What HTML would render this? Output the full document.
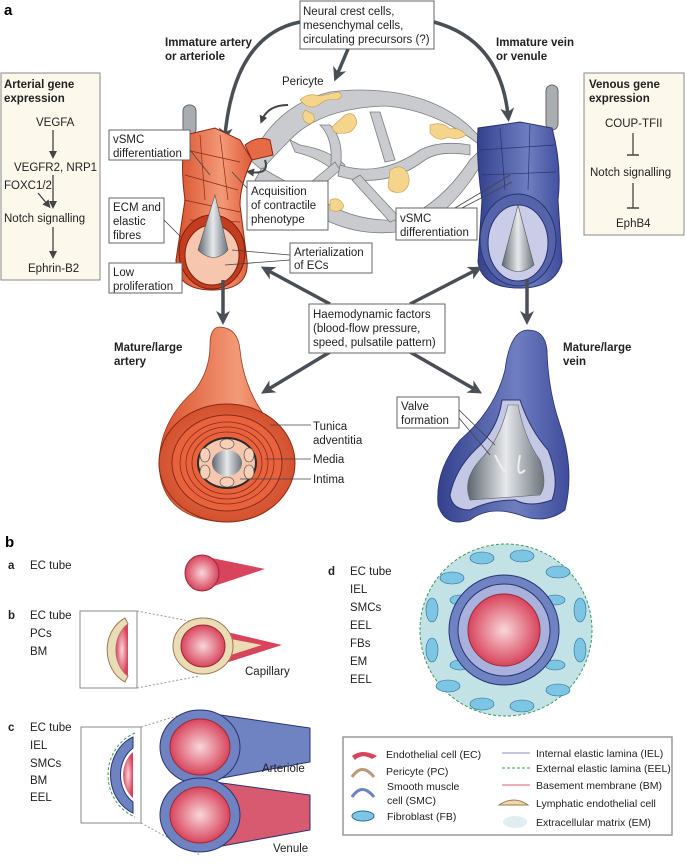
<!DOCTYPE html>
<html><head><meta charset="utf-8"><style>
body{margin:0;background:#fff;}
svg{display:block;font-family:"Liberation Sans",sans-serif;}
.t{font-size:11.5px;fill:#222;}
.b{font-weight:bold;}
.bx{fill:#fff;stroke:#666;stroke-width:1;}
.ln{stroke:#444;stroke-width:0.8;fill:none;}
.ar{stroke:#4a4f55;stroke-width:3.5;fill:none;}
</style></head><body>
<svg width="685" height="864" viewBox="0 0 685 864">
<defs>
<marker id="ah" markerWidth="8" markerHeight="8" refX="4" refY="4" orient="auto" markerUnits="userSpaceOnUse"><path d="M0,0 L8,4 L0,8z" fill="#444"/></marker>
<marker id="as" markerWidth="14" markerHeight="14" refX="7" refY="7" orient="auto" markerUnits="userSpaceOnUse"><path d="M0,0 L14,7 L0,14 L4,7z" fill="#4a4f55"/></marker>
<linearGradient id="redL" x1="0" x2="1"><stop offset="0" stop-color="#d9502c"/><stop offset="0.6" stop-color="#f39a78"/><stop offset="1" stop-color="#de5a35"/></linearGradient>
<radialGradient id="redR" cx="0.5" cy="0.5" r="0.55"><stop offset="0" stop-color="#f08260"/><stop offset="1" stop-color="#d04c2a"/></radialGradient>
<linearGradient id="blueL" x1="0" x2="1"><stop offset="0" stop-color="#34418e"/><stop offset="0.6" stop-color="#6f7ec0"/><stop offset="1" stop-color="#3e4c9c"/></linearGradient>
<radialGradient id="pink" cx="0.5" cy="0.5" r="0.5"><stop offset="0" stop-color="#f9d6da"/><stop offset="1" stop-color="#d8445c"/></radialGradient>
<linearGradient id="grey" x1="0" x2="1"><stop offset="0" stop-color="#5e6670"/><stop offset="0.5" stop-color="#e7e9eb"/><stop offset="1" stop-color="#6b737c"/></linearGradient>
</defs>

<text x="4" y="15" class="b" font-size="15">a</text>

<rect x="300" y="1" width="134" height="48" class="bx"/>
<text class="t" x="303" y="15">Neural crest cells,</text>
<text class="t" x="303" y="29">mesenchymal cells,</text>
<text class="t" x="303" y="43">circulating precursors (?)</text>
<text class="t b" x="165" y="46">Immature artery</text>
<text class="t b" x="165" y="60">or arteriole</text>
<text class="t b" x="496" y="46">Immature vein</text>
<text class="t b" x="496" y="60">or venule</text>

<path d="M300,22 Q235,35 225,135" class="ar" marker-end="url(#as)"/>
<path d="M434,22 Q500,40 508,115" class="ar" marker-end="url(#as)"/>
<path d="M348,49 L337,75" class="ar" marker-end="url(#as)"/>

<rect x="1" y="73" width="99" height="207" fill="#fdf8ec" stroke="#888"/>
<text class="t b" x="4" y="88" font-size="12">Arterial gene</text>
<text class="t b" x="4" y="102" font-size="12">expression</text>
<text class="t" x="36" y="126">VEGFA</text>
<line x1="53" y1="130" x2="53" y2="155" stroke="#444" stroke-width="1.3" marker-end="url(#ah)"/>
<text class="t" x="14" y="171">VEGFR2, NRP1</text>
<text class="t" x="4" y="189">FOXC1/2</text>
<line x1="53" y1="175" x2="53" y2="205" stroke="#444" stroke-width="1.3" marker-end="url(#ah)"/>
<line x1="38" y1="193" x2="48" y2="205" stroke="#444" stroke-width="1.3" marker-end="url(#ah)"/>
<text class="t" x="4" y="222">Notch signalling</text>
<line x1="53" y1="227" x2="53" y2="255" stroke="#444" stroke-width="1.3" marker-end="url(#ah)"/>
<text class="t" x="28" y="272">Ephrin-B2</text>

<rect x="584" y="73" width="100" height="162" fill="#fdf8ec" stroke="#888"/>
<text class="t b" x="589" y="88" font-size="12">Venous gene</text>
<text class="t b" x="589" y="102" font-size="12">expression</text>
<text class="t" x="605" y="127">COUP-TFII</text>
<line x1="633" y1="133" x2="633" y2="155" stroke="#444" stroke-width="1.3"/><line x1="627" y1="155" x2="639" y2="155" stroke="#444" stroke-width="1.5"/>
<text class="t" x="590" y="176">Notch signalling</text>
<line x1="633" y1="183" x2="633" y2="208" stroke="#444" stroke-width="1.3"/><line x1="627" y1="208" x2="639" y2="208" stroke="#444" stroke-width="1.5"/>
<text class="t" x="616" y="227">EphB4</text>

<g fill="#c9cbce" stroke="#7a7d82" stroke-width="0.8">
<path d="M250,160 Q275,105 330,92 Q360,88 390,92 Q450,100 482,140 L488,152 Q440,110 385,106 Q320,108 290,140 Q270,160 262,170z"/>
<path d="M262,168 Q300,190 330,205 Q360,222 400,220 Q440,205 470,160 L482,148 L488,152 Q460,205 420,228 Q370,240 330,222 Q290,205 255,180z"/>
<path d="M290,140 L300,145 Q330,150 345,165 L335,172 Q320,158 295,152z"/>
<path d="M330,125 Q345,140 340,170 L330,172 Q335,140 320,125z"/>
<path d="M340,170 L300,205 L292,198 L335,162z"/>
<path d="M340,165 Q380,178 420,150 Q440,140 470,145 L470,155 Q440,150 425,160 Q385,190 338,176z"/>
<path d="M360,175 L400,218 L390,222 L352,180z"/>
<path d="M380,112 L395,160 L385,162 L370,112z"/>
</g>
<g fill="#f5d48c" stroke="#c49a4a" stroke-width="0.6">
<path d="M300,100 q8,-8 20,-4 q10,-2 18,-4 q8,4 -2,8 q-10,-2 -16,4 q-8,6 -16,0z"/>
<path d="M345,115 q10,-5 12,8 q-5,12 -15,10 q-8,2 -10,-6z"/>
<path d="M430,125 q12,-4 20,4 q10,-2 16,6 q-8,6 -18,2 q-10,6 -18,-4z"/>
<path d="M390,170 q12,-8 18,4 q4,12 -6,18 q-12,2 -14,-6z"/>
<path d="M330,200 q10,-4 14,6 q-4,8 -14,4z"/>
<path d="M305,110 q-6,10 4,14 q8,-2 4,-10z"/>
</g>
<text class="t" x="282" y="85">Pericyte</text>
<path d="M288,105 Q268,105 262,120" fill="none" stroke="#444" stroke-width="2" marker-end="url(#ah)"/>
<path d="M265,160 Q270,175 250,172" fill="none" stroke="#444" stroke-width="2" marker-end="url(#ah)"/>

<rect x="183" y="105" width="13" height="30" rx="6" fill="#a9adb2" stroke="#666"/>
<path d="M245,145 Q258,135 270,140 L273,155 L252,160z" fill="#e66a46" stroke="#8a2a14"/>
<path d="M185,135 L215,128 L240,140 L252,160 Q240,185 240,205 L247,260 Q250,290 212,290 Q176,290 176,260 L185,200 Q180,165 185,135z" fill="url(#redL)" stroke="#8a2a14"/>
<g fill="none" stroke="#8a2a14" stroke-width="0.7"><path d="M186,150 L240,162 M185,175 L238,190 M184,200 L240,212 M200,135 L205,200 M220,135 L228,200 M190,220 L240,222"/></g>
<ellipse cx="212" cy="252" rx="33" ry="37" fill="#c33c1e" stroke="#7a2010"/>
<ellipse cx="212" cy="255" rx="27" ry="30" fill="#f6c6ae" stroke="#7a2010"/>
<path d="M198,250 L215,195 L228,250 Q214,265 198,250z" fill="url(#grey)" stroke="#555" stroke-width="0.6"/>

<rect x="546" y="85" width="12" height="45" rx="6" fill="#a9adb2" stroke="#666"/>
<path d="M478,128 L520,122 L552,128 Q562,165 558,200 L562,262 Q555,288 520,288 Q482,288 478,262 L482,200 Q476,160 478,128z" fill="url(#blueL)" stroke="#2a3370"/>
<g fill="none" stroke="#2a3370" stroke-width="0.7"><path d="M480,150 L555,145 M482,175 L556,172 M500,128 L505,190 M530,125 L528,190"/></g>
<ellipse cx="518" cy="240" rx="38" ry="46" fill="#5563ab" stroke="#2a3370"/>
<ellipse cx="518" cy="243" rx="30" ry="38" fill="#c9cde8" stroke="#2a3370"/>
<path d="M502,265 L518,205 L534,265 Q518,278 502,265z" fill="url(#grey)" stroke="#555" stroke-width="0.6"/>

<rect x="109" y="130" width="81" height="30" class="bx"/>
<text class="t" x="113" y="143">vSMC</text><text class="t" x="113" y="157">differentiation</text>
<path d="M190,150 L210,175" class="ln"/>
<rect x="247" y="181" width="81" height="49" class="bx"/>
<text class="t" x="251" y="195">Acquisition</text><text class="t" x="251" y="209">of contractile</text><text class="t" x="251" y="223">phenotype</text>
<path d="M247,188 L232,172" class="ln"/>
<rect x="109" y="198" width="55" height="45" class="bx"/>
<text class="t" x="113" y="211">ECM and</text><text class="t" x="113" y="225">elastic</text><text class="t" x="113" y="239">fibres</text>
<path d="M164,220 L182,238" class="ln"/>
<rect x="290" y="243" width="82" height="30" class="bx"/>
<text class="t" x="294" y="256">Arterialization</text><text class="t" x="294" y="269">of ECs</text>
<path d="M290,255 L232,250 M290,260 L225,265" class="ln"/>
<rect x="109" y="263" width="73" height="30" class="bx"/>
<text class="t" x="113" y="276">Low</text><text class="t" x="113" y="290">proliferation</text>
<rect x="396" y="208" width="81" height="32" class="bx"/>
<text class="t" x="400" y="222">vSMC</text><text class="t" x="400" y="236">differentiation</text>
<path d="M455,208 L510,175 M462,208 L512,182" class="ln"/>

<path d="M330,304 L267,270" class="ar" marker-end="url(#as)"/>
<path d="M410,304 L476,270" class="ar" marker-end="url(#as)"/>
<path d="M330,352 L267,390" class="ar" marker-end="url(#as)"/>
<path d="M410,352 L476,390" class="ar" marker-end="url(#as)"/>
<rect x="309" y="304" width="136" height="49" class="bx"/>
<text class="t" x="313" y="318">Haemodynamic factors</text>
<text class="t" x="313" y="332">(blood-flow pressure,</text>
<text class="t" x="313" y="346">speed, pulsatile pattern)</text>

<path d="M223,280 L223,318" class="ar" marker-end="url(#as)"/>
<path d="M527,280 L527,318" class="ar" marker-end="url(#as)"/>

<text class="t b" x="114" y="351">Mature/large</text>
<text class="t b" x="114" y="365">artery</text>
<text class="t b" x="563" y="351">Mature/large</text>
<text class="t b" x="563" y="365">vein</text>

<path d="M220,327 Q238,328 240,350 Q244,390 268,420 Q295,450 290,475 Q280,520 227,522 Q160,520 159,463 Q160,420 195,390 Q210,370 210,345 Q210,327 220,327z" fill="url(#redL)" stroke="#9a3a20" stroke-width="0.8"/>
<ellipse cx="227" cy="463" rx="68" ry="59" fill="url(#redR)" stroke="#8a2a14"/>
<ellipse cx="227" cy="463" rx="55" ry="48" fill="#e8623e" stroke="#8a2a14"/>
<ellipse cx="227" cy="463" rx="47" ry="41" fill="none" stroke="#8a2a14" stroke-width="0.8"/>
<ellipse cx="227" cy="463" rx="41" ry="36" fill="none" stroke="#8a2a14" stroke-width="0.8"/>
<ellipse cx="227" cy="463" rx="35" ry="31" fill="none" stroke="#8a2a14" stroke-width="0.8"/>
<ellipse cx="227" cy="463" rx="30" ry="26" fill="#2a2a2a"/>
<ellipse cx="227" cy="463" rx="28" ry="24" fill="#f6c6ae"/>
<g fill="#f9cfb8" stroke="#444" stroke-width="0.6">
<ellipse cx="227" cy="444" rx="7" ry="5"/><ellipse cx="227" cy="482" rx="7" ry="5"/>
<ellipse cx="205" cy="455" rx="5" ry="7"/><ellipse cx="249" cy="455" rx="5" ry="7"/>
<ellipse cx="205" cy="472" rx="5" ry="7"/><ellipse cx="249" cy="472" rx="5" ry="7"/>
</g>
<ellipse cx="227" cy="463" rx="15" ry="13" fill="url(#grey)"/>
<text class="t" x="313" y="430">Tunica</text><text class="t" x="313" y="444">adventitia</text>
<path d="M311,425 L270,425" class="ln"/>
<text class="t" x="313" y="463">Media</text><path d="M311,459 L265,459" class="ln"/>
<text class="t" x="313" y="483">Intima</text><path d="M311,479 L240,479" class="ln"/>

<path d="M528,330 Q545,330 547,350 Q548,390 560,425 Q575,470 565,510 Q545,525 520,515 Q490,505 470,520 Q445,528 438,505 Q435,470 460,440 Q495,410 505,370 Q510,330 528,330z" fill="url(#blueL)" stroke="#2a3370" stroke-width="0.8"/>
<path d="M502,400 L520,400 Q530,430 548,450 Q560,480 552,500 Q530,508 515,500 Q490,500 470,510 Q452,510 450,495 Q455,470 475,450 Q498,430 502,400z" fill="#c3c8e4" stroke="#2a3370"/>
<path d="M508,405 L518,405 Q525,440 540,460 Q548,485 540,495 L470,500 Q462,480 480,460 Q500,440 508,405z" fill="url(#grey)" stroke="#666" stroke-width="0.6"/>
<path d="M495,455 Q505,475 505,470 M520,455 Q515,480 525,470" stroke="#eee" stroke-width="2" fill="none"/>
<rect x="397" y="397" width="62" height="31" class="bx"/>
<text class="t" x="401" y="410">Valve</text><text class="t" x="401" y="424">formation</text>
<path d="M459,410 L495,445 M459,418 L490,455" class="ln"/>

<text x="5" y="547" class="b" font-size="15">b</text>
<text class="t b" x="8" y="569">a</text><text class="t" x="30" y="569" font-size="13">EC tube</text>
<path d="M202,556 L265,569 L202,590z" fill="#d8445c"/>
<ellipse cx="202" cy="573" rx="17" ry="18" fill="url(#pink)" stroke="#9a2a3a"/>
<text class="t b" x="8" y="619">b</text><text class="t" x="30" y="619" font-size="13">EC tube</text>
<text class="t" x="30" y="637" font-size="13">PCs</text><text class="t" x="30" y="655" font-size="13">BM</text>
<rect x="80" y="611" width="57" height="77" fill="#fff" stroke="#888"/>
<path d="M125,618 A30,35 0 0 0 125,682 L128,676 A24,30 0 0 1 128,624z" fill="#eadcb6" stroke="#9a7a5a"/>
<path d="M128,624 A24,30 0 0 0 128,676z" fill="url(#pink)"/>
<path d="M137,611 L195,622 M137,688 L200,676" stroke="#999" stroke-dasharray="2,2"/>
<path d="M210,628 L282,645 L210,668z" fill="#d8445c"/>
<path d="M215,636 L262,645 L215,660z" fill="#ecdcb3"/>
<ellipse cx="203" cy="646" rx="30" ry="28" fill="#ecdcb3" stroke="#9a7a5a"/>
<ellipse cx="203" cy="646" rx="22" ry="21" fill="url(#pink)" stroke="#9a2a3a"/>
<text class="t" x="245" y="675" font-size="13">Capillary</text>

<text class="t b" x="8" y="731">c</text>
<text class="t" x="30" y="731" font-size="13">EC tube</text><text class="t" x="30" y="749" font-size="13">IEL</text>
<text class="t" x="30" y="767" font-size="13">SMCs</text><text class="t" x="30" y="784" font-size="13">BM</text><text class="t" x="30" y="801" font-size="13">EEL</text>
<rect x="81" y="727" width="60" height="96" fill="#fff" stroke="#888"/>
<path d="M135,733 A42,45 0 0 0 135,817" fill="none" stroke="#3a9a5a" stroke-dasharray="3,2"/>
<path d="M133,737 A36,41 0 0 0 133,813 L133,802 A27,32 0 0 1 133,748z" fill="#6f82c2" stroke="#2a3370"/>
<path d="M133,752 A23,28 0 0 0 133,798z" fill="url(#pink)"/>
<path d="M141,727 L190,712 M141,823 L200,855" stroke="#999" stroke-dasharray="2,2"/>
<path d="M200,712 L310,728 L310,762 L200,782z" fill="#6f82c2" stroke="#2a3370"/>
<ellipse cx="200" cy="747" rx="40" ry="37" fill="#6f82c2" stroke="#2a3370"/>
<ellipse cx="200" cy="747" rx="30" ry="28" fill="url(#pink)" stroke="#9a2a3a"/>
<text class="t" x="262" y="772" font-size="13">Arteriole</text>
<path d="M200,780 L310,795 L310,830 L200,850z" fill="#d85a70" stroke="#2a3370"/>
<ellipse cx="200" cy="815" rx="40" ry="37" fill="#6f82c2" stroke="#2a3370"/>
<ellipse cx="200" cy="815" rx="30" ry="28" fill="url(#pink)" stroke="#9a2a3a"/>
<text class="t" x="273" y="852" font-size="13">Venule</text>

<text class="t b" x="328" y="575">d</text>
<text class="t" x="350" y="575" font-size="13">EC tube</text><text class="t" x="350" y="593" font-size="13">IEL</text>
<text class="t" x="350" y="611" font-size="13">SMCs</text><text class="t" x="350" y="629" font-size="13">EEL</text>
<text class="t" x="350" y="647" font-size="13">FBs</text><text class="t" x="350" y="665" font-size="13">EM</text><text class="t" x="350" y="683" font-size="13">EEL</text>
<circle cx="506" cy="630" r="86" fill="#c2e2e6" stroke="#3a9a5a" stroke-dasharray="3,2"/>
<g fill="#7cc5e3" stroke="#2a6a9a" stroke-width="0.6">
<ellipse cx="452" cy="578" rx="12" ry="6"/><ellipse cx="482" cy="558" rx="12" ry="6"/><ellipse cx="522" cy="556" rx="12" ry="6"/><ellipse cx="558" cy="572" rx="12" ry="6"/>
<ellipse cx="580" cy="610" rx="6" ry="12"/><ellipse cx="580" cy="650" rx="6" ry="12"/><ellipse cx="558" cy="690" rx="12" ry="6"/><ellipse cx="522" cy="706" rx="12" ry="6"/>
<ellipse cx="482" cy="704" rx="12" ry="6"/><ellipse cx="448" cy="686" rx="12" ry="6"/><ellipse cx="432" cy="650" rx="6" ry="12"/><ellipse cx="432" cy="610" rx="6" ry="12"/>
<ellipse cx="460" cy="600" rx="10" ry="5"/><ellipse cx="555" cy="600" rx="10" ry="5"/><ellipse cx="460" cy="665" rx="10" ry="5"/><ellipse cx="555" cy="665" rx="10" ry="5"/>
</g>
<circle cx="504" cy="630" r="55" fill="#6f82c2" stroke="#2a3370"/>
<circle cx="504" cy="630" r="46" fill="#a8b2dc" stroke="#2a3370"/>
<circle cx="504" cy="630" r="36" fill="url(#pink)" stroke="#9a2a3a"/>

<rect x="343" y="737" width="329" height="98" fill="#fff" stroke="#999" stroke-width="1.5"/>
<g font-size="10.5" fill="#222">
<path d="M352,756 Q362,748 377,756 L372,759 Q362,753 355,760z" fill="#d8445c"/>
<text x="386" y="758">Endothelial cell (EC)</text>
<path d="M352,777 Q362,762 374,777" fill="none" stroke="#b89a78" stroke-width="3"/>
<text x="386" y="775">Pericyte (PC)</text>
<path d="M352,797 Q362,782 374,797" fill="none" stroke="#6f82c2" stroke-width="3"/>
<text x="387" y="790">Smooth muscle</text><text x="387" y="804">cell (SMC)</text>
<ellipse cx="363" cy="816" rx="11" ry="5" fill="#7cc5e3" stroke="#2a6a9a"/>
<text x="387" y="820">Fibroblast (FB)</text>
<line x1="502" y1="753" x2="530" y2="753" stroke="#8a90c8"/>
<text x="536" y="757">Internal elastic lamina (IEL)</text>
<line x1="502" y1="768" x2="530" y2="768" stroke="#3a9a5a" stroke-dasharray="3,2"/>
<text x="536" y="772">External elastic lamina (EEL)</text>
<line x1="502" y1="785" x2="530" y2="785" stroke="#e06070"/>
<text x="536" y="789">Basement membrane (BM)</text>
<path d="M499,805 Q514,795 528,805z" fill="#f0d8a8" stroke="#9a7a5a"/>
<text x="536" y="807">Lymphatic endothelial cell</text>
<ellipse cx="515" cy="822" rx="12" ry="6" fill="#e0eef0"/>
<text x="536" y="826">Extracellular matrix (EM)</text>
</g>
</svg>
</body></html>
